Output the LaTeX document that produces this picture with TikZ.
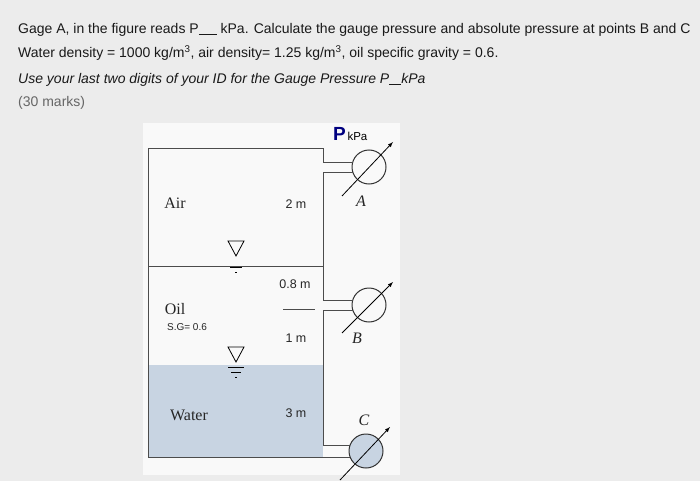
\documentclass[tikz,border=0pt]{standalone}
\usepackage{fontspec}
\setmainfont{Liberation Sans}
\newfontfamily\serif{Liberation Serif}
\definecolor{wtr}{RGB}{200,212,226}
\begin{document}
\begin{tikzpicture}[x=1pt,y=-1pt,
  q/.style={anchor=west,inner sep=0,font=\fontsize{14}{16}\selectfont,text=black!90},
  lab/.style={inner sep=0,font=\serif\fontsize{16}{18}\selectfont,text=black!85},
  dim/.style={inner sep=0,font=\fontsize{12.5}{14}\selectfont,text=black!85},
  wall/.style={draw=black!70,line width=0.9pt},
  gauge/.style={circle,draw=black!80,line width=1pt,minimum size=34pt,inner sep=0},
  needle/.style={-latex,line width=0.8pt}]
\fill[gray!15] (0,0) rectangle (700,481);
\useasboundingbox (0,0) rectangle (700,481);
\fill[gray!5] (143,123) rectangle (400,475);
\node[q] (t1) at (18,30) {Gage A, in the figure reads P\rule[-1.5pt]{18pt}{0.8pt} kPa. Calculate the gauge pressure and absolute pressure at points B and C};
\node[q] (t2) at (18,53) {Water density = 1000 kg/m\textsuperscript{3}, air density= 1.25 kg/m\textsuperscript{3}, oil specific gravity = 0.6.};
\node[q,font=\itshape\fontsize{14}{16}\selectfont] (t3) at (18,80) {Use your last two digits of your ID for the Gauge Pressure P\rule[-1.5pt]{12pt}{0.8pt}kPa};
\node[q,text=black!60] (t4) at (18,103) {(30 marks)};
% water
\fill[wtr] (148,365) rectangle (323,457);
% tank
\draw[wall] (323,162) -- (323,148) -- (148,148) -- (148,457) -- (323,457);
\draw[wall] (323,172) -- (323,300);
\draw[wall] (323,310) -- (323,445);
\draw[wall] (148,266) -- (323,266);
% gauges
\node[gauge] (A) at (369,167) {};
\node[gauge] (B) at (369,305) {};
\node[gauge,fill=wtr] (C) at (366,451) {};
\draw[wall] (323,172) -- (353,172);
\draw[wall] (323,162) -- (353,162);
\draw[wall] (323,300) -- (353,300);
\draw[wall] (323,310) -- (353,310);
\draw[wall] (323,445) -- (350,445);
\draw[wall] (323,457) -- (350,457);
\coordinate (a1) at (342,196); \coordinate (a2) at (393,142);
\coordinate (b1) at (342,333); \coordinate (b2) at (393,282);
\coordinate (c1) at (340,480); \coordinate (c2) at (390,427);
\draw[needle] (a1) -- (a2);
\draw[needle] (b1) -- (b2);
\draw[needle] (c1) -- (c2);
\node[lab,font=\serif\itshape\fontsize{16}{18}\selectfont] (la) at (361,201) {A};
\node[lab,font=\serif\itshape\fontsize{16}{18}\selectfont] (lb) at (357,338) {B};
\node[lab,font=\serif\itshape\fontsize{16}{18}\selectfont] (lc) at (364,420) {C};
\node[inner sep=0,anchor=west] (P) at (333,134) {\textcolor{blue!50!black}{\fontsize{19}{20}\selectfont\bfseries P}\,{\fontsize{11.5}{12}\selectfont kPa}};
% labels
\node[lab] (air) at (175,203) {Air};
\node[lab] (oil) at (175,309) {Oil};
\node[dim,font=\fontsize{10}{11}\selectfont] (sg) at (187,327) {S.G= 0.6};
\node[lab] (wat) at (189,415) {Water};
\node[dim] (d1) at (296,204) {2 m};
\node[dim] (d2) at (295,284) {0.8 m};
\node[dim] (d3) at (296,338) {1 m};
\node[dim] (d4) at (296,413) {3 m};
\draw[black!70,line width=0.8pt] (283,309) -- (315,309);
% free surface symbols
\draw[line width=0.8pt] (228,241) -- (244,241) -- (236,256) -- cycle;
\draw[line width=0.7pt] (230,267) -- (242,267) (235,272) -- (237,272);
\draw[line width=0.8pt] (228,347) -- (244,347) -- (236,362) -- cycle;
\draw[line width=0.7pt] (228,367) -- (244,367) (231,372) -- (241,372) (235,377) -- (237,377);
\end{tikzpicture}
\end{document}
